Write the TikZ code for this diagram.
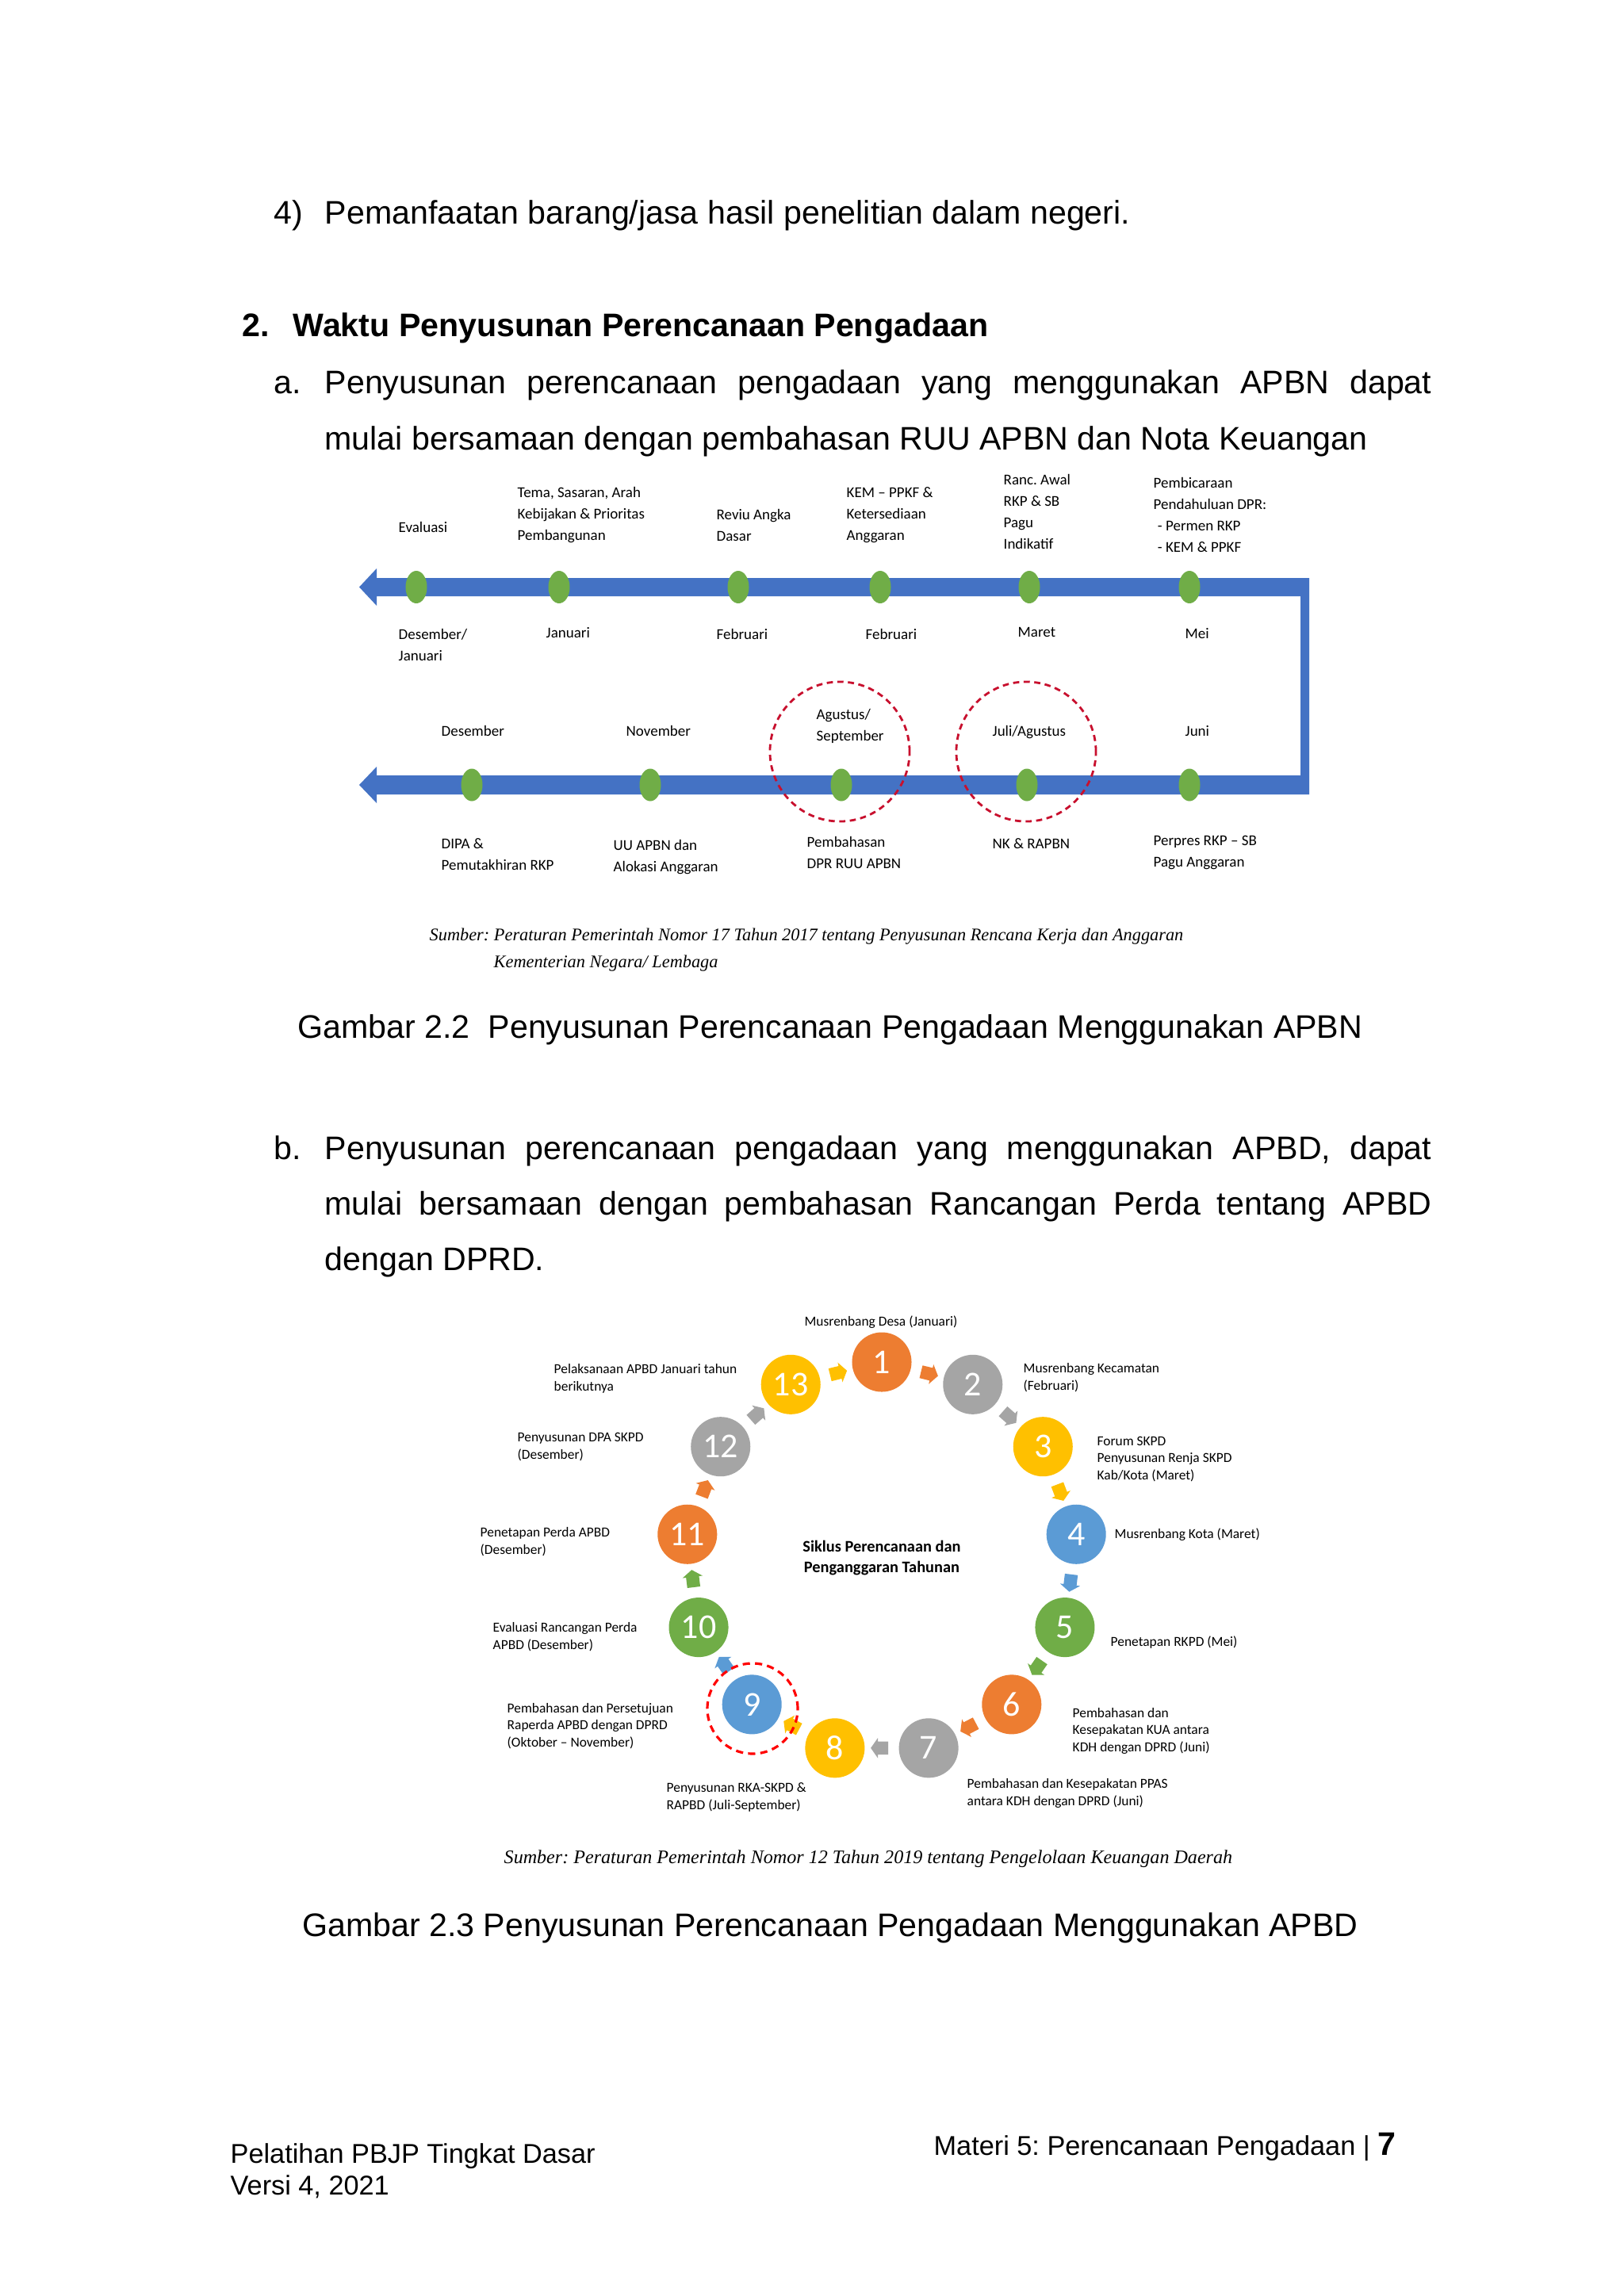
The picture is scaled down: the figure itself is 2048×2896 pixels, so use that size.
\documentclass[tikz,border=0pt]{standalone}
\usepackage{fontspec}
\setmainfont{Liberation Sans}
\newfontfamily\diagfont{Carlito}
\newfontfamily\srcfont{Liberation Serif}
\usetikzlibrary{shapes.geometric,shapes.arrows}
\frenchspacing

\definecolor{barblue}{HTML}{4472C4}
\definecolor{dotgreen}{HTML}{70AD47}
\definecolor{dashred}{HTML}{C8102E}
\definecolor{corange}{HTML}{ED7D31}
\definecolor{cgray}{HTML}{A5A5A5}
\definecolor{cyellow}{HTML}{FFC000}
\definecolor{cblue}{HTML}{5B9BD5}
\definecolor{cgreen}{HTML}{70AD47}

\begin{document}
\begin{tikzpicture}[x=0.01cm, y=-0.01cm,
    body/.style={anchor=base west, inner sep=0pt, font=\fontsize{11.7}{14}\selectfont},
    foot/.style={anchor=base west, inner sep=0pt, font=\fontsize{9.75}{12}\selectfont},
    tl/.style={anchor=base west, inner sep=0pt, align=left, font=\diagfont\fontsize{5.4}{7.6}\selectfont},
    dot/.style={ellipse, fill=dotgreen, minimum width=0.27cm, minimum height=0.41cm, inner sep=0pt},
    ring/.style={circle, draw=dashred, dash pattern=on 2.2pt off 1.6pt, line width=0.8pt, inner sep=0pt},
    num/.style={circle, minimum size=0.75cm, inner sep=0pt, text=white, font=\diagfont\fontsize{12.5}{12.5}\selectfont},
    cl/.style={anchor=base west, inner sep=0pt, align=left, font=\diagfont\fontsize{4.95}{6}\selectfont},
    flow/.style={single arrow, minimum height=0.22cm, inner xsep=0pt, inner ysep=0.075cm,
        single arrow head extend=0.045cm, single arrow tip angle=110, sloped, allow upside down},
    src/.style={anchor=base west, inner sep=0pt, font=\srcfont\itshape\fontsize{6.35}{8}\selectfont}]
    \useasboundingbox (0,0) rectangle (2048,2896);
    \fill[white] (0,0) rectangle (2048,2896);

    % text above the first figure
    \node[body] (n4) at (345,282) {4)};
    \node[body] (n4txt) at (409,282) {Pemanfaatan barang/jasa hasil penelitian dalam negeri.};
    \node[body, font=\fontsize{11.7}{14}\selectfont\bfseries] (sec2) at (305,424) {2.};
    \node[body, font=\fontsize{11.7}{14}\selectfont\bfseries] (sec2txt) at (369,424) {Waktu Penyusunan Perencanaan Pengadaan};
    \node[body] (pa) at (345,496) {a.};
    \node[body] (pa1) at (409,496) {\makebox[13.95cm][s]{Penyusunan perencanaan pengadaan yang menggunakan APBN dapat}};
    \node[body] (pa2) at (409,567) {mulai bersamaan dengan pembahasan RUU APBN dan Nota Keuangan};

    % timeline APBN
    \fill[barblue] (453,740.5) -- (475,717) -- (475,729) -- (1651,729) -- (1651,1002)
        -- (475,1002) -- (475,1013) -- (453,990) -- (475,967) -- (475,978)
        -- (1640,978) -- (1640,752) -- (475,752) -- (475,764) -- cycle;

    \node[dot] (t1) at (525,740.5) {};
    \node[dot] (t2) at (705,740.5) {};
    \node[dot] (t3) at (931,740.5) {};
    \node[dot] (t4) at (1110,740.5) {};
    \node[dot] (t5) at (1298,740.5) {};
    \node[dot] (t6) at (1500,740.5) {};
    \node[dot] (b1) at (595,990) {};
    \node[dot] (b2) at (820,990) {};
    \node[dot] (b3) at (1061,990) {};
    \node[dot] (b4) at (1295,990) {};
    \node[dot] (b5) at (1500,990) {};

    \node[ring, minimum size=1.76cm] (r1) at (1059,948) {};
    \node[ring, minimum size=1.76cm] (r2) at (1294,948) {};

    \node[tl] (ev) at (502,671) {Evaluasi};
    \node[tl] (tema) at (652,681) {Tema, Sasaran, Arah\\Kebijakan \& Prioritas\\Pembangunan};
    \node[tl] (reviu) at (903,682) {Reviu Angka\\Dasar};
    \node[tl] (kem) at (1067,681) {KEM \textendash\ PPKF \&\\Ketersediaan\\Anggaran};
    \node[tl] (ranc) at (1265,692) {Ranc. Awal\\RKP \& SB\\Pagu\\Indikatif};
    \node[tl] (pdpr) at (1454,696) {Pembicaraan\\Pendahuluan DPR:\\\hspace{1.5pt}- Permen RKP\\\hspace{1.5pt}- KEM \& PPKF};

    \node[tl] (m1) at (502,833) {Desember/\\Januari};
    \node[tl] (m2) at (688,804) {Januari};
    \node[tl] (m3) at (903,806) {Februari};
    \node[tl] (m4) at (1091,806) {Februari};
    \node[tl] (m5) at (1283,803) {Maret};
    \node[tl] (m6) at (1494,805) {Mei};

    \node[tl] (m7) at (556,928) {Desember};
    \node[tl] (m8) at (789,928) {November};
    \node[tl] (m9) at (1029,934) {Agustus/\\September};
    \node[tl] (m10) at (1251,928) {Juli/Agustus};
    \node[tl] (m11) at (1494,928) {Juni};

    \node[tl] (dipa) at (556,1097) {DIPA \&\\Pemutakhiran RKP};
    \node[tl] (uu) at (773,1099) {UU APBN dan\\Alokasi Anggaran};
    \node[tl] (ruu) at (1017,1095) {Pembahasan\\DPR RUU APBN};
    \node[tl] (nk) at (1251,1070) {NK \& RAPBN};
    \node[tl] (perpres) at (1454,1093) {Perpres RKP \textendash\ SB\\Pagu Anggaran};

    \node[src] (src1) at (541,1186) {Sumber: Peraturan Pemerintah Nomor 17 Tahun 2017 tentang Penyusunan Rencana Kerja dan Anggaran};
    \node[src] (src1b) at (622,1220) {Kementerian Negara/ Lembaga};

    \node[body, anchor=base] (cap1) at (1047,1309) {Gambar 2.2\ \ Penyusunan Perencanaan Pengadaan Menggunakan APBN};

    % text above the second figure
    \node[body] (pb) at (345,1462) {b.};
    \node[body] (pb1) at (409,1462) {\makebox[13.95cm][s]{Penyusunan perencanaan pengadaan yang menggunakan APBD, dapat}};
    \node[body] (pb2) at (409,1532) {\makebox[13.95cm][s]{mulai bersamaan dengan pembahasan Rancangan Perda tentang APBD}};
    \node[body] (pb3) at (409,1602) {dengan DPRD.};

    % cycle APBD
    \begin{scope}[shift={(1112,1965)}]
        \node[num, fill=corange] (c1) at (-90:247) {1};
        \node[num, fill=cgray] (c2) at (-62.31:247) {2};
        \node[num, fill=cyellow] (c3) at (-34.62:247) {3};
        \node[num, fill=cblue] (c4) at (-6.92:247) {4};
        \node[num, fill=cgreen] (c5) at (20.77:247) {5};
        \node[num, fill=corange] (c6) at (48.46:247) {6};
        \node[num, fill=cgray] (c7) at (76.15:247) {7};
        \node[num, fill=cyellow] (c8) at (103.85:247) {8};
        \node[num, fill=cblue] (c9) at (131.54:247) {9};
        \node[num, fill=cgreen] (c10) at (159.23:247) {10};
        \node[num, fill=corange] (c11) at (186.92:247) {11};
        \node[num, fill=cgray] (c12) at (214.62:247) {12};
        \node[num, fill=cyellow] (c13) at (242.31:247) {13};
    \end{scope}

    \path (c1) -- (c2) node[flow, midway, fill=corange] (f1) {};
    \path (c2) -- (c3) node[flow, midway, fill=cgray] (f2) {};
    \path (c3) -- (c4) node[flow, midway, fill=cyellow] (f3) {};
    \path (c4) -- (c5) node[flow, midway, fill=cblue] (f4) {};
    \path (c5) -- (c6) node[flow, midway, fill=cgreen] (f5) {};
    \path (c6) -- (c7) node[flow, midway, fill=corange] (f6) {};
    \path (c7) -- (c8) node[flow, midway, fill=cgray] (f7) {};
    \path (c8) -- (c9) node[flow, midway, fill=cyellow] (f8) {};
    \path (c9) -- (c10) node[flow, midway, fill=cblue] (f9) {};
    \path (c10) -- (c11) node[flow, midway, fill=cgreen] (f10) {};
    \path (c11) -- (c12) node[flow, midway, fill=corange] (f11) {};
    \path (c12) -- (c13) node[flow, midway, fill=cgray] (f12) {};
    \path (c13) -- (c1) node[flow, midway, fill=cyellow] (f13) {};

    \node[ring, draw=red, minimum size=1.14cm, dash pattern=on 2.6pt off 1.8pt, line width=0.9pt] (r9) at (949,2155) {};

    \node[cl, anchor=base] (l1) at (1111,1672) {Musrenbang Desa (Januari)};
    \node[cl] (l2) at (1290,1753) {Musrenbang Kecamatan\\(Februari)};
    \node[cl] (l3) at (1383,1866) {Forum SKPD\\Penyusunan Renja SKPD\\Kab/Kota (Maret)};
    \node[cl] (l4) at (1405,1940) {Musrenbang Kota (Maret)};
    \node[cl] (l5) at (1400,2076) {Penetapan RKPD (Mei)};
    \node[cl] (l6) at (1352,2209) {Pembahasan dan\\Kesepakatan KUA antara\\KDH dengan DPRD (Juni)};
    \node[cl] (l7) at (1219,2277) {Pembahasan dan Kesepakatan PPAS\\antara KDH dengan DPRD (Juni)};
    \node[cl] (l8) at (840,2282) {Penyusunan RKA-SKPD \&\\RAPBD (Juli-September)};
    \node[cl] (l9) at (639,2203) {Pembahasan dan Persetujuan\\Raperda APBD dengan DPRD\\(Oktober \textendash\ November)};
    \node[cl] (l10) at (621,2080) {Evaluasi Rancangan Perda\\APBD (Desember)};
    \node[cl] (l11) at (605,1960) {Penetapan Perda APBD\\(Desember)};
    \node[cl] (l12) at (652,1840) {Penyusunan DPA SKPD\\(Desember)};
    \node[cl] (l13) at (698,1754) {Pelaksanaan APBD Januari tahun\\berikutnya};
    \node[anchor=base, inner sep=0pt, align=center, font=\diagfont\bfseries\fontsize{5.8}{7.4}\selectfont] (siklus) at (1112,1983) {Siklus Perencanaan dan\\Penganggaran Tahunan};

    \node[src, font=\srcfont\itshape\fontsize{6.85}{8}\selectfont] (src2) at (635,2350) {Sumber: Peraturan Pemerintah Nomor 12 Tahun 2019 tentang Pengelolaan Keuangan Daerah};

    \node[body, anchor=base] (cap2) at (1047,2442) {Gambar 2.3 Penyusunan Perencanaan Pengadaan Menggunakan APBD};

    % footer
    \node[foot] (ft1) at (290,2728) {Pelatihan PBJP Tingkat Dasar};
    \node[foot] (ft2) at (290,2768) {Versi 4, 2021};
    \node[foot, anchor=base east] (ft3) at (1761,2718) {Materi 5: Perencanaan Pengadaan | {\fontsize{11.7}{14}\selectfont\bfseries 7}};
\end{tikzpicture}
\end{document}
